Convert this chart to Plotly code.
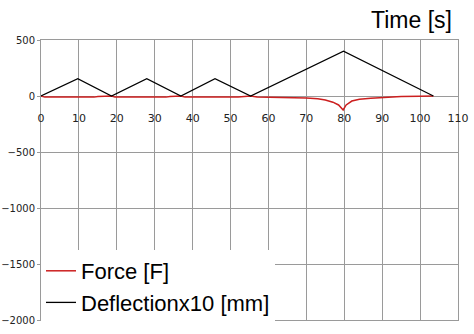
import plotly.graph_objects as go

defl_t = [0, 9.7, 18.6, 27.9, 36.9, 45.9, 55.3, 79.8, 103.5]
defl_v = [0, 155, 0, 155, 0, 155, 0, 400, 0]

force_t = [0, 1, 14, 15, 18.6, 19.5, 33, 34, 36.9, 38, 52, 53, 55.3, 57, 63, 65, 70, 73, 75, 77,
           78.5, 79.7, 80.5, 82, 84, 87, 92, 95, 100, 103.5]
force_v = [0, -10, -10, -5, 0, -10, -10, -5, 0, -10, -10, -5, 0, -8, -10, -15, -18, -25, -35, -55,
           -80, -125, -80, -45, -30, -20, -10, -5, -3, 0]

x_ticks = list(range(0, 111, 10))
y_ticks = list(range(-2000, 501, 500))

grid = "#9a9a9a"

fig = go.Figure()
fig.add_trace(go.Scatter(x=force_t, y=force_v, mode="lines", name="Force [F]",
                         line=dict(color="#cc1f1f", width=1.5)))
fig.add_trace(go.Scatter(x=defl_t, y=defl_v, mode="lines", name="Deflectionx10 [mm]",
                         line=dict(color="black", width=1.3)))
fig.add_trace(go.Scatter(x=[0], y=[0], xaxis="x2", mode="none", showlegend=False,
                         hoverinfo="skip"))

fig.update_layout(
    width=474, height=334,
    margin=dict(l=41, r=16, t=40, b=14, autoexpand=False),
    paper_bgcolor="white", plot_bgcolor="white",
    showlegend=True,
    legend=dict(x=0.0, y=0.25, xanchor="left", yanchor="top",
                bgcolor="white", borderwidth=0,
                font=dict(family="Liberation Sans", size=22, color="black"),
                itemwidth=30, tracegroupgap=0),
    xaxis=dict(range=[0, 110], tickvals=x_ticks, showgrid=True, gridcolor=grid,
               gridwidth=1, zeroline=False, showline=True, mirror=True, linecolor=grid,
               linewidth=1, showticklabels=False, automargin=False),
    xaxis2=dict(range=[0, 110], tickvals=x_ticks, matches="x", overlaying="x",
                anchor="free", position=0.8, side="bottom", showgrid=False,
                zeroline=False, showline=False, ticks="outside", ticklen=12,
                tickcolor="rgba(0,0,0,0)",
                tickfont=dict(family="DejaVu Sans", size=11, color="#222"),
                automargin=False),
    yaxis=dict(range=[-2000, 500], tickvals=y_ticks, showgrid=True, gridcolor=grid,
               gridwidth=1, zeroline=False, showline=True, mirror=True, linecolor=grid,
               linewidth=1, ticks="outside", ticklen=3, tickcolor=grid, automargin=False,
               tickfont=dict(family="DejaVu Sans", size=10, color="#222")),
    annotations=[dict(text="Time [s]", x=1.0, y=1.0, xref="paper", yref="paper",
                      xanchor="right", yanchor="bottom", yshift=5, xshift=-4, showarrow=False,
                      font=dict(family="Liberation Sans", size=23, color="black"))],
)
fig.write_html("out.html")
